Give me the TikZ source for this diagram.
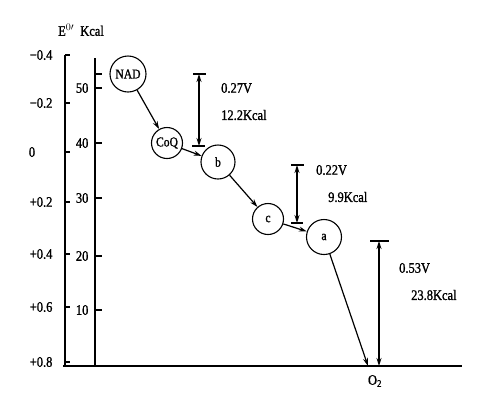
\documentclass[tikz,border=0pt]{standalone}
\usepackage{fontspec}
\setmainfont{Liberation Serif}[FakeStretch=0.86, FakeBold=1.2]
\usetikzlibrary{arrows.meta}

\tikzset{
  carrier/.style={draw, circle, line width=1.1pt, inner sep=0pt, font=\fontsize{13.5}{15}\selectfont},
  flow/.style={-{Stealth[length=8pt,width=5pt]}, line width=1.2pt},
  gap/.style={{Stealth[length=8pt,width=5pt]}-{Stealth[length=8pt,width=5pt]}, line width=1.2pt},
  axis/.style={line width=1.2pt},
  lab/.style={font=\fontsize{14.5}{16}\selectfont, inner sep=0pt},
}

\begin{document}
\begin{tikzpicture}[x=1pt,y=-1pt]
    \useasboundingbox (0,0) rectangle (485,408);

    % axes
    \draw[axis] (65,55) -- (65,366);
    \draw[axis] (95,58) -- (95,366);
    \draw[axis] (63,366) -- (462,366);
    \node[lab, anchor=west] (head) at (58,30) {E$^{0\prime}$\ \ Kcal};

    % E0' scale
    \foreach \v/\y in {{−0.4}/55, {−0.2}/103, {+0.2}/202, {+0.4}/254, {+0.6}/307, {+0.8}/362}
      \draw[axis] (65,\y) -- (70,\y) node[lab, anchor=east] at (53,\y) {\v};
    \draw[axis] (65,152) -- (70,152);
    \node[lab] (zero) at (32,152) {0};

    % Kcal scale
    \foreach \v/\y in {50/88, 40/143, 30/198, 20/256, 10/310}
      \draw[axis] (95,\y) -- (102,\y) node[lab, anchor=east] at (89,\y) {\v};
    \draw[axis] (95,74) -- (102,74);

    % carriers
    \node[carrier, minimum size=36pt] (nad) at (128,74) {NAD};
    \node[carrier, minimum size=31pt] (coq) at (167,143) {CoQ};
    \node[carrier, minimum size=34pt] (b) at (218,162) {b};
    \node[carrier, minimum size=31pt] (c) at (268,219) {c};
    \node[carrier, minimum size=35pt] (a) at (324,237) {a};
    \coordinate (o2) at (368,366);
    \node[lab] (o2lab) at (375,381) {O\textsubscript{2}};

    \draw[flow] (nad) -- (coq);
    \draw[flow] (coq) -- (b);
    \draw[flow] (b) -- (c);
    \draw[flow] (c) -- (a);
    \draw[flow] (a) -- (o2);

    % energy gaps
    \coordinate (g1t) at (199,74);
    \coordinate (g1b) at (199,146);
    \draw[axis] (193,74) -- (206,74);
    \draw[axis] (192,146) -- (205,146);
    \draw[gap] (g1t) -- (g1b);
    \node[lab, anchor=west] at (221,88) {0.27V};
    \node[lab, anchor=west] at (221,115) {12.2Kcal};

    \coordinate (g2t) at (297,165);
    \coordinate (g2b) at (297,223);
    \draw[axis] (291,165) -- (304,165);
    \draw[axis] (291,223) -- (303,223);
    \draw[gap] (g2t) -- (g2b);
    \node[lab, anchor=west] at (316,170) {0.22V};
    \node[lab, anchor=west] at (328,197) {9.9Kcal};

    \coordinate (g3t) at (379,241);
    \coordinate (g3b) at (379,366);
    \draw[axis] (370,241) -- (389,241);
    \draw[gap] (g3t) -- (g3b);
    \node[lab, anchor=west] at (399,268) {0.53V};
    \node[lab, anchor=west] at (411,295) {23.8Kcal};
  \end{tikzpicture}
\end{document}
